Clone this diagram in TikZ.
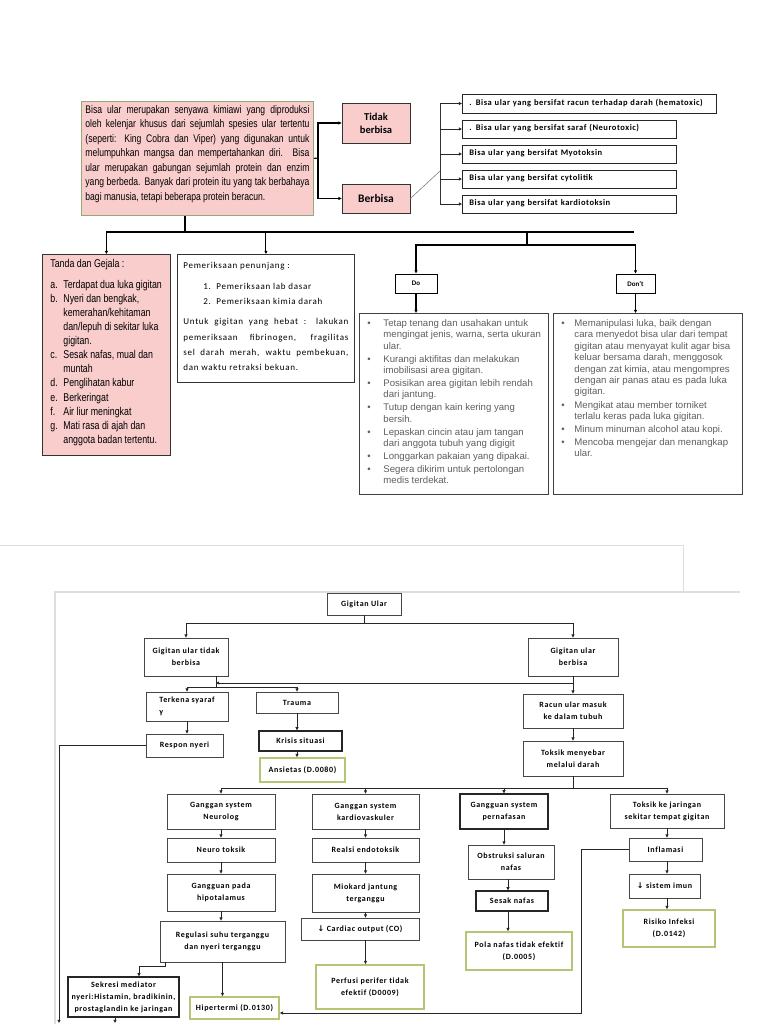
\documentclass[tikz,border=0pt]{standalone}
\usepackage{fontspec}
\usetikzlibrary{arrows.meta}
\setmainfont{Carlito}
\newfontfamily\narrowsf{Liberation Sans}[FakeStretch=0.78]
\newfontfamily\arialf{Liberation Sans}
\newfontfamily\carlsp{Carlito}[LetterSpace=8,Ligatures=NoCommon]
\newfontfamily\carlpm{Carlito}[LetterSpace=8]
\newfontfamily\carlsq{Carlito}[LetterSpace=6]
\newfontfamily\dejavu{DejaVu Sans}
\definecolor{pinkfill}{RGB}{250,205,205}
\definecolor{pinkedge}{RGB}{150,168,120}
\definecolor{greenedge}{RGB}{178,198,118}
\definecolor{boxedge}{RGB}{70,70,70}
\definecolor{framegray}{RGB}{222,222,222}
\definecolor{listgray}{RGB}{95,95,95}
\newcommand\dnarr{{\dejavu ↓}}
\newcommand\lowf{\carlsp\bfseries\fontsize{8}{12}\selectfont}
\newcommand\bx[7][]{%
  \pgfmathsetmacro\bxw{#5-#3}\pgfmathsetmacro\bxh{#6-#4}%
  \node[lbox,#1,minimum width=\bxw pt,minimum height=\bxh pt] (#2) at ({(#3+#5)/2},{(#4+#6)/2}) {#7};}
\begin{document}
\begin{tikzpicture}[x=1pt,y=-1pt,
  lbox/.style={draw=boxedge, line width=0.7pt, inner sep=1pt, align=center, font=\lowf, text=black},
  thk/.style={line width=1.3pt, draw=black!85},
  grn/.style={draw=greenedge, line width=1.8pt},
  pinkb/.style={draw=black!80, fill=pinkfill, line width=0.8pt},
  arr/.style={-{Triangle[length=3.2pt,width=3pt]}},
  cn/.style={line width=0.8pt, black!85},
  tc/.style={line width=1.1pt, black},
  rbox/.style={draw=black!85, line width=0.8pt, anchor=west, inner xsep=7pt, inner ysep=0pt, align=left, font=\carlsq\bfseries\fontsize{8.5}{9}\selectfont, text height=6pt, text depth=2pt}
]
\useasboundingbox (0,0) rectangle (768,1024);
\fill[white] (0,0) rectangle (768,1024);

% ================= TOP PART =================
\node[draw=pinkedge, fill=pinkfill, line width=0.9pt, anchor=north west, inner xsep=4pt, inner ysep=4pt, font=\narrowsf\fontsize{11}{14.5}\selectfont] (pk) at (81,101) {\begin{minipage}[t][106pt][t]{224pt}
Bisa ular merupakan senyawa kimiawi yang diproduksi\linebreak
oleh kelenjar khusus dari sejumlah spesies ular tertentu\linebreak
(seperti: King Cobra dan Viper) yang digunakan untuk\linebreak
melumpuhkan mangsa dan mempertahankan diri. Bisa\linebreak
ular merupakan gabungan sejumlah protein dan enzim\linebreak
yang berbeda. Banyak dari protein itu yang tak berbahaya\linebreak
bagi manusia, tetapi beberapa protein beracun.
\end{minipage}};

\bx[pinkb, font=\bfseries\fontsize{10.5}{13}\selectfont]{tb}{342}{103}{410}{143}{Tidak\\berbisa}
\bx[pinkb, font=\bfseries\fontsize{11.5}{13}\selectfont]{bb}{342}{184}{410}{213}{Berbisa}

\node[rbox, text width=240pt, minimum height=19pt] (r1) at (462,103.5) {. Bisa ular yang bersifat racun terhadap darah (hematoxic)};
\node[rbox, text width=200pt, minimum height=18pt] (r2) at (462,129) {. Bisa ular yang bersifat saraf (Neurotoxic)};
\node[rbox, text width=200pt, minimum height=18pt] (r3) at (462,154) {Bisa ular yang bersifat Myotoksin};
\node[rbox, text width=200pt, minimum height=18pt] (r4) at (462,179) {Bisa ular yang bersifat cytolitik};
\node[rbox, text width=200pt, minimum height=18pt] (r5) at (462,204) {Bisa ular yang bersifat kardiotoksin};

\node[pinkb, anchor=north west, inner xsep=8pt, inner ysep=3pt, font=\narrowsf\fontsize{11.3}{14.1}\selectfont] (tg) at (42,254) {\begin{minipage}[t][195pt][t]{112pt}\begin{tabular}[t]{@{}p{13pt}@{}l@{}}
\multicolumn{2}{@{}l@{}}{Tanda dan Gejala :}\\[6.9pt]
a. & Terdapat dua luka gigitan\\
b. & Nyeri dan bengkak,\\
   & kemerahan/kehitaman\\
   & dan/lepuh di sekitar luka\\
   & gigitan.\\
c. & Sesak nafas, mual dan\\
   & muntah\\
d. & Penglihatan kabur\\
e. & Berkeringat\\
f. & Air liur meningkat\\
g. & Mati rasa di ajah dan\\
   & anggota badan tertentu.
\end{tabular}\end{minipage}};

\node[draw=black!80, line width=0.8pt, fill=white, anchor=north west, inner xsep=6pt, inner ysep=8pt, font=\carlpm\fontsize{9}{15.3}\selectfont] (pm) at (177,254) {\begin{minipage}[t][112pt][t]{165pt}
Pemeriksaan penunjang :\par\vspace{5.7pt}
\hspace*{20pt}\makebox[13pt][l]{1.}Pemeriksaan lab dasar\par
\hspace*{20pt}\makebox[13pt][l]{2.}Pemeriksaan kimia darah\par\vspace{4.7pt}
Untuk gigitan yang hebat : lakukan\linebreak pemeriksaan fibrinogen, fragilitas\linebreak sel darah merah, waktu pembekuan,\linebreak dan waktu retraksi bekuan.
\end{minipage}};

\bx[line width=1pt, draw=black, font=\bfseries\fontsize{7}{8}\selectfont]{do}{395}{274}{437}{293}{Do}
\bx[line width=1pt, draw=black, font=\bfseries\fontsize{7}{8}\selectfont]{dt}{616}{274}{655}{293}{Don't}

\node[draw=black!75, line width=0.9pt, anchor=north west, inner xsep=8pt, inner ysep=5pt, font=\arialf\fontsize{9.6}{11.4}\selectfont, text=listgray] (dob) at (359,313) {\begin{minipage}[t][171pt][t]{173pt}\begin{tabular}[t]{@{}p{16pt}@{}l@{}}
• & Tetap tenang dan usahakan untuk\\
  & mengingat jenis, warna, serta ukuran\\
  & ular.\\[1.5pt]
• & Kurangi aktifitas dan melakukan\\
  & imobilisasi area gigitan.\\[1.5pt]
• & Posisikan area gigitan lebih rendah\\
  & dari jantung.\\[1.5pt]
• & Tutup dengan kain kering yang\\
  & bersih.\\[1.5pt]
• & Lepaskan cincin atau jam tangan\\
  & dari anggota tubuh yang digigit\\[1.5pt]
• & Longgarkan pakaian yang dipakai.\\[1.5pt]
• & Segera dikirim untuk pertolongan\\
  & medis terdekat.
\end{tabular}\end{minipage}};

\node[draw=black!75, line width=0.9pt, anchor=north west, inner xsep=8pt, inner ysep=5pt, font=\arialf\fontsize{9.6}{11.4}\selectfont, text=listgray] (dtb) at (553,313) {\begin{minipage}[t][171pt][t]{173pt}\begin{tabular}[t]{@{}p{13pt}@{}l@{}}
• & Memanipulasi luka, baik dengan\\
  & cara menyedot bisa ular dari tempat\\
  & gigitan atau menyayat kulit agar bisa\\
  & keluar bersama darah, menggosok\\
  & dengan zat kimia, atau mengompres\\
  & dengan air panas atau es pada luka\\
  & gigitan.\\[2pt]
• & Mengikat atau member torniket\\
  & terlalu keras pada luka gigitan.\\[1.5pt]
• & Minum minuman alcohol atau kopi.\\[1.5pt]
• & Mencoba mengejar dan menangkap\\
  & ular.
\end{tabular}\end{minipage}};

% top connectors
\coordinate (k1) at (318,158);
\draw[tc] (pk.east) -- (k1);
\draw[tc,arr] (k1) |- (tb.west);
\draw[tc,arr] (k1) |- (bb.west);
\coordinate (k2) at (440,171);
\draw[gray, line width=0.6pt] (bb.east) -- (k2);
\draw[line width=0.8pt, black!80] (r1.west -| k2) -- (r5.west -| k2);
\foreach \r in {r1,r2,r3,r4,r5} \draw[line width=0.8pt, black!85, arr] (\r.west -| k2) -- (\r.west);
\coordinate (k3) at (185,232);
\draw[tc] (pk.south -| k3) -- (k3);
\draw[tc,arr] (k3) -| (tg.north);
\draw[tc,arr] (k3) -| (pm.north);
\coordinate (k4) at (634,232);
\draw[tc] (k3) -- (k4);
\coordinate (k5) at (527,232);
\coordinate (k6) at (527,245);
\draw[tc] (k5) -- (k6);
\draw[tc,arr] (k6) -| (do.north);
\draw[tc,arr] (k6) -| (dt.north);
\draw[tc,arr] (do.south) -- (do.south |- dob.north);
\draw[tc,arr] (dt.south) -- (dt.south |- dtb.north);

% ================= LOWER PART =================
\draw[framegray, line width=0.8pt] (0,545) -- (683,545) -- (683,592);
\draw[framegray, line width=1.2pt] (55,1024) -- (55,592) -- (740,592);

\bx{gu}{327}{593}{401}{615}{Gigitan Ular}
\bx{gtb}{144}{638}{228}{676}{Gigitan ular tidak\\berbisa}
\bx{gb}{528}{638}{618}{676}{Gigitan ular\\berbisa}
\bx[align=left]{ts}{146}{692}{228}{721}{Terkena syaraf\\γ}
\bx{tr}{256}{692}{338}{713}{Trauma}
\bx{rn}{146}{734}{223}{757}{Respon nyeri}
\bx[thk]{ks}{259}{731}{342}{751}{Krisis situasi}
\bx[grn]{an}{260}{758}{345}{782}{Ansietas (D.0080)}
\bx{ru}{523}{694}{623}{728}{Racun ular masuk\\ke dalam tubuh}
\bx{tm}{523}{741}{623}{776}{Toksik menyebar\\melalui darah}
\bx{gn}{167}{794}{275}{829}{Ganggan system\\Neurolog}
\bx{gk}{312}{794}{419}{829}{Ganggan system\\kardiovaskuler}
\bx[thk]{gp}{460}{794}{548}{829}{Gangguan system\\pernafasan}
\bx{tj}{610}{794}{724}{828}{Toksik ke jaringan\\sekitar tempat gigitan}
\bx{nt}{167}{838}{275}{862}{Neuro toksik}
\bx{re}{312}{838}{419}{862}{Realsi endotoksik}
\bx{os}{468}{845}{554}{879}{Obstruksi saluran\\nafas}
\bx{inf}{629}{838}{702}{861}{Inflamasi}
\bx{gh}{167}{874}{275}{911}{Gangguan pada\\hipotalamus}
\bx{mj}{312}{874}{419}{912}{Miokard jantung\\terganggu}
\bx[thk]{sn}{476}{891}{548}{911}{Sesak nafas}
\bx{si}{629}{874}{700}{898}{\dnarr\ sistem imun}
\bx[grn]{ri}{623}{910}{715}{947}{Risiko Infeksi\\(D.0142)}
\bx{rs}{160}{921}{285}{962}{Regulasi suhu terganggu\\dan nyeri terganggu}
\bx{co}{301}{918}{419}{940}{\dnarr\ Cardiac output (CO)}
\bx[grn]{pn}{466}{932}{572}{970}{Pola nafas tidak efektif\\(D.0005)}
\bx[grn]{pp}{316}{965}{424}{1009}{Perfusi perifer tidak\\efektif (D0009)}
\bx[thk]{sk}{68}{977}{179}{1017}{Sekresi mediator\\nyeri:Histamin, bradikinin,\\prostaglandin ke jaringan}
\bx[grn]{hp}{190}{997}{279}{1019}{Hipertermi (D.0130)}

% lower connectors
\coordinate (j1) at (364,623);
\draw[cn] (gu.south) -- (j1);
\draw[cn,arr] (j1) -| (gtb.north);
\draw[cn,arr] (j1) -| (gb.north);
\draw[cn,arr] (gb.south) -- (ru.north);
\coordinate (j2) at (573,683);
\coordinate (j3) at (216,683);
\draw[cn,arr] (j2) -- (j3);
\coordinate (j4) at (216,687);
\draw[cn] (gtb.south -| j4) -- (j4);
\draw[cn,arr] (j4) -| (ts.north);
\draw[cn,arr] (j4) -| (tr.north);
\draw[cn,arr] (ts.south) -- (ts.south |- rn.north);
\draw[cn,arr] (tr.south) -- (tr.south |- ks.north);
\draw[cn,arr] (ks.south -| tr.south) -- (an.north -| tr.south);
\draw[cn,arr] (ru.south) -- (tm.north);
\coordinate (j5) at (573,788);
\draw[cn] (tm.south) -- (j5);
\draw[cn,arr] (j5) -| (gn.north);
\draw[cn,arr] (j5) -| (gk.north);
\draw[cn,arr] (j5) -| (gp.north);
\draw[cn,arr] (j5) -| (tj.north);
\draw[cn,arr] (gn.south) -- (nt.north);
\draw[cn,arr] (nt.south) -- (gh.north);
\draw[cn,arr] (gh.south) -- (gh.south |- rs.north);
\draw[cn,arr] (gk.south) -- (re.north);
\draw[cn,arr] (re.south) -- (mj.north);
\draw[cn,arr] (mj.south) -- (mj.south |- co.north);
\draw[cn,arr] (mj.south |- co.south) -- (mj.south |- pp.north);
\coordinate (xo) at (508,0);
\draw[cn,arr] (gp.south) -- (gp.south |- os.north);
\draw[cn,arr] (os.south -| xo) -- (sn.north -| xo);
\draw[cn,arr] (sn.south -| xo) -- (pn.north -| xo);
\draw[cn,arr] (tj.south) -- (tj.south |- inf.north);
\draw[cn,arr] (inf.south -| tj.south) -- (si.north -| tj.south);
\draw[cn,arr] (si.south -| tj.south) -- (ri.north -| tj.south);
\coordinate (j6) at (581,1013);
\draw[cn,arr] (inf.west) -| (j6) -- (hp.east |- j6);
\coordinate (j7) at (59,1023);
\draw[cn,arr] (rn.west) -| (j7);
\coordinate (j8) at (139,966);
\draw[cn,arr] ([xshift=6pt]rs.south west) |- (j8) -- (j8 |- sk.north);
\draw[cn,arr] (rs.south) -- (rs.south |- hp.north);
\coordinate (j9) at (115,1023);
\draw[cn,arr] (sk.south -| j9) -- (j9);
\end{tikzpicture}
\end{document}
